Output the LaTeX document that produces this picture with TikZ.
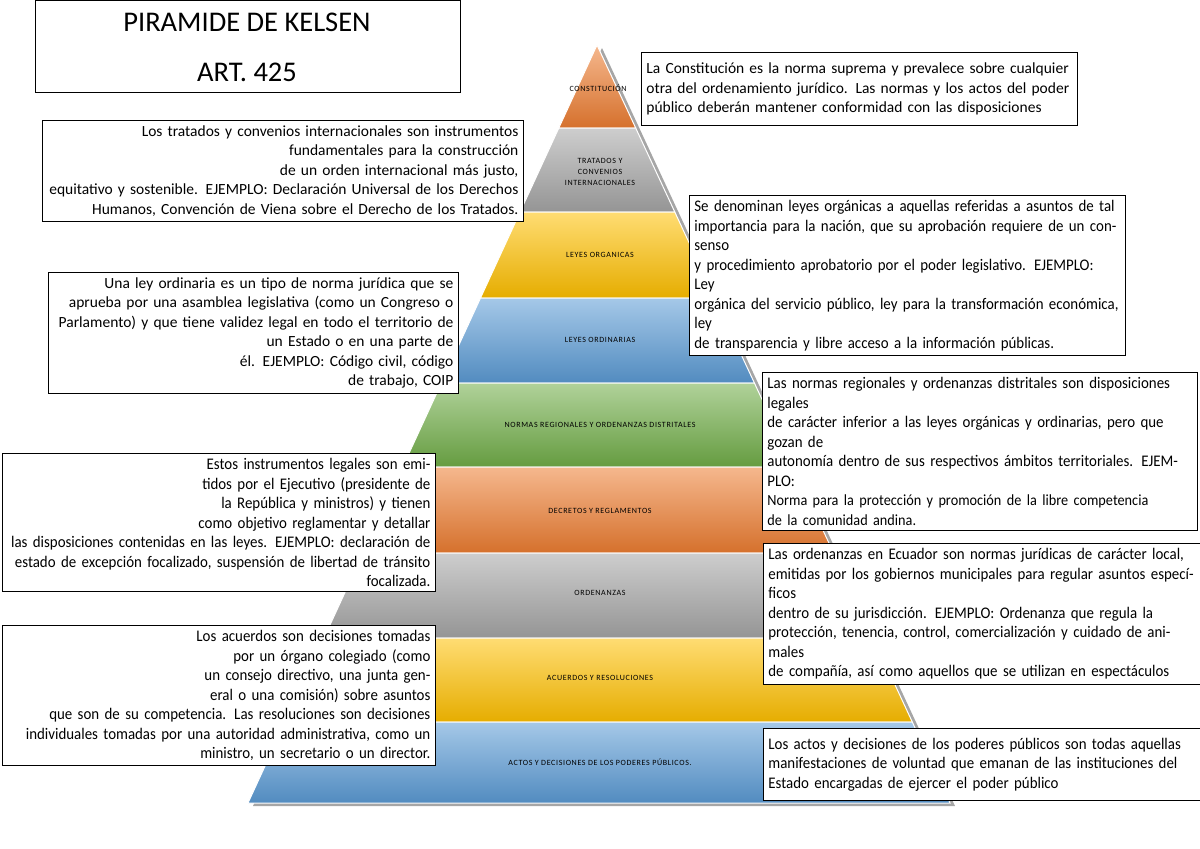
\documentclass[tikz,border=0pt]{standalone}
\usepackage{fontspec}
\setmainfont{Carlito}
\begin{document}
\begin{tikzpicture}[x=1pt,y=-1pt,
  box/.style={draw=black,fill=white,line width=0.8pt,inner sep=5pt,anchor=north west,font=\fontsize{15.5}{19.5}\selectfont},
  boxb/.style={box,font=\fontsize{16.2}{19.5}\selectfont\addfontfeature{FakeStretch=0.92}},
  lbl/.style={font=\fontsize{8}{11}\selectfont\addfontfeature{LetterSpace=8},align=center}]
\useasboundingbox (0,0) rectangle (1200,849);
\definecolor{cor}{HTML}{ED7D31}\definecolor{cgr}{HTML}{A5A5A5}
\definecolor{cye}{HTML}{FFC000}\definecolor{cbl}{HTML}{5B9BD5}\definecolor{cgn}{HTML}{70AD47}
\newcommand\band[7]{%
 \fill[black!35] (#1+5,#3+3) -- (#2+5,#3+3) -- (#5+5,#4+3) -- (#6+5,#4+3) -- cycle;
 \shade[top color=#7!55!white,bottom color=#7!90!black,draw=white,line width=1pt] (#1,#3) -- (#2,#3) -- (#5,#4) -- (#6,#4) -- cycle;}
\band{597}{597}{45}{128}{635.7}{558.8}{cor}
\band{558.8}{635.7}{128}{212}{674.8}{520.1}{cgr}
\band{520.1}{674.8}{212}{298}{714.8}{480.5}{cye}
\band{480.5}{714.8}{298}{383}{754.4}{441.4}{cbl}
\band{441.4}{754.4}{383}{467}{793.5}{402.7}{cgn}
\band{402.7}{793.5}{467}{553}{833.6}{363.1}{cor}
\band{363.1}{833.6}{553}{638}{873.2}{324.0}{cgr}
\band{324.0}{873.2}{638}{722}{912.3}{285.3}{cye}
\band{285.3}{912.3}{722}{803}{950}{248}{cbl}
\node[lbl] (b1) at (598,88) {CONSTITUCIÓN};
\node[lbl] (b2) at (600,172) {TRATADOS Y\\CONVENIOS\\INTERNACIONALES};
\node[lbl] (b3) at (600,255) {LEYES ORGANICAS};
\node[lbl] (b4) at (600,340) {LEYES ORDINARIAS};
\node[lbl] (b5) at (600,425) {NORMAS REGIONALES Y ORDENANZAS DISTRITALES};
\node[lbl] (b6) at (600,511) {DECRETOS Y REGLAMENTOS};
\node[lbl] (b7) at (600,593) {ORDENANZAS};
\node[lbl] (b8) at (600,678) {ACUERDOS Y RESOLUCIONES};
\node[lbl] (b9) at (600,762) {ACTOS Y DECISIONES DE LOS PODERES PÚBLICOS.};

\node[draw,line width=0.8pt,minimum width=425,minimum height=92,anchor=north west] (t) at (35,0) {};
\node[font=\fontsize{28.5}{32}\selectfont] (t1) at (247,22) {PIRAMIDE DE KELSEN};
\node[font=\fontsize{28.5}{32}\selectfont] (t2) at (247,72) {ART. 425};

\node[box,text width=426,minimum height=73,align=left] (x1) at (641,52) {La Constitución es la norma suprema y prevalece sobre cualquier\\otra del ordenamiento jurídico. Las normas y los actos del poder\\público deberán mantener conformidad con las disposiciones};
\node[box,text width=471,minimum height=92,align=right] (x2) at (42,120) {Los tratados y convenios internacionales son instrumentos\\fundamentales para la construcción de un orden internacional más justo,\\equitativo y sostenible. EJEMPLO: Declaración Universal de los Derechos\\Humanos, Convención de Viena sobre el Derecho de los Tratados.};
\node[boxb,text width=426,minimum height=100,align=left] (x3) at (689,195) {Se denominan leyes orgánicas a aquellas referidas a asuntos de tal\\importancia para la nación, que su aprobación requiere de un consenso\\y procedimiento aprobatorio por el poder legislativo. EJEMPLO:\ \ Ley\\orgánica del servicio público, ley para la transformación económica, ley\\de transparencia y libre acceso a la información públicas.};
\node[box,text width=400,minimum height=110,align=right] (x4) at (48,272) {Una ley ordinaria es un tipo de norma jurídica que se\\aprueba por una asamblea legislativa (como un Congreso o\\Parlamento) y que tiene validez legal en todo el territorio de\\un Estado o en una parte de él. EJEMPLO: Código civil, código\\de trabajo, COIP};
\node[boxb,text width=425,minimum height=103,align=left] (x5) at (762,372) {Las normas regionales y ordenanzas distritales son disposiciones legales\\de carácter inferior a las leyes orgánicas y ordinarias, pero que gozan de\\autonomía dentro de sus respectivos ámbitos territoriales. EJEMPLO:\\{\fontsize{15.5}{19.5}\selectfont Norma para la protección y promoción de la libre competencia}\\{\fontsize{15.5}{19.5}\selectfont de la comunidad andina.}};
\node[boxb,text width=423,minimum height=97,align=right] (x6) at (2,453) {Estos instrumentos legales son emitidos por el Ejecutivo (presidente de\\la República y ministros) y tienen como objetivo reglamentar y detallar\\las disposiciones contenidas en las leyes. EJEMPLO: declaración de\\estado de excepción focalizado, suspensión de libertad de tránsito\\focalizada.};
\node[boxb,text width=427,minimum height=97,align=left] (x7) at (763,543) {Las ordenanzas en Ecuador son normas jurídicas de carácter local,\\emitidas por los gobiernos municipales para regular asuntos específicos\\dentro de su jurisdicción. EJEMPLO: Ordenanza que regula la\\protección, tenencia, control, comercialización y cuidado de animales\\de compañía, así como aquellos que se utilizan en espectáculos};
\node[boxb,text width=423,minimum height=95,align=right] (x8) at (2,625) {Los acuerdos son decisiones tomadas por un órgano colegiado (como\\un consejo directivo, una junta general o una comisión) sobre asuntos\\que son de su competencia. Las resoluciones son decisiones\\individuales tomadas por una autoridad administrativa, como un\\ministro, un secretario o un director.};
\node[boxb,text width=427,minimum height=72,align=left] (x9) at (763,728) {Los actos y decisiones de los poderes públicos son todas aquellas\\manifestaciones de voluntad que emanan de las instituciones del\\Estado encargadas de ejercer el poder público};
\end{tikzpicture}
\end{document}
